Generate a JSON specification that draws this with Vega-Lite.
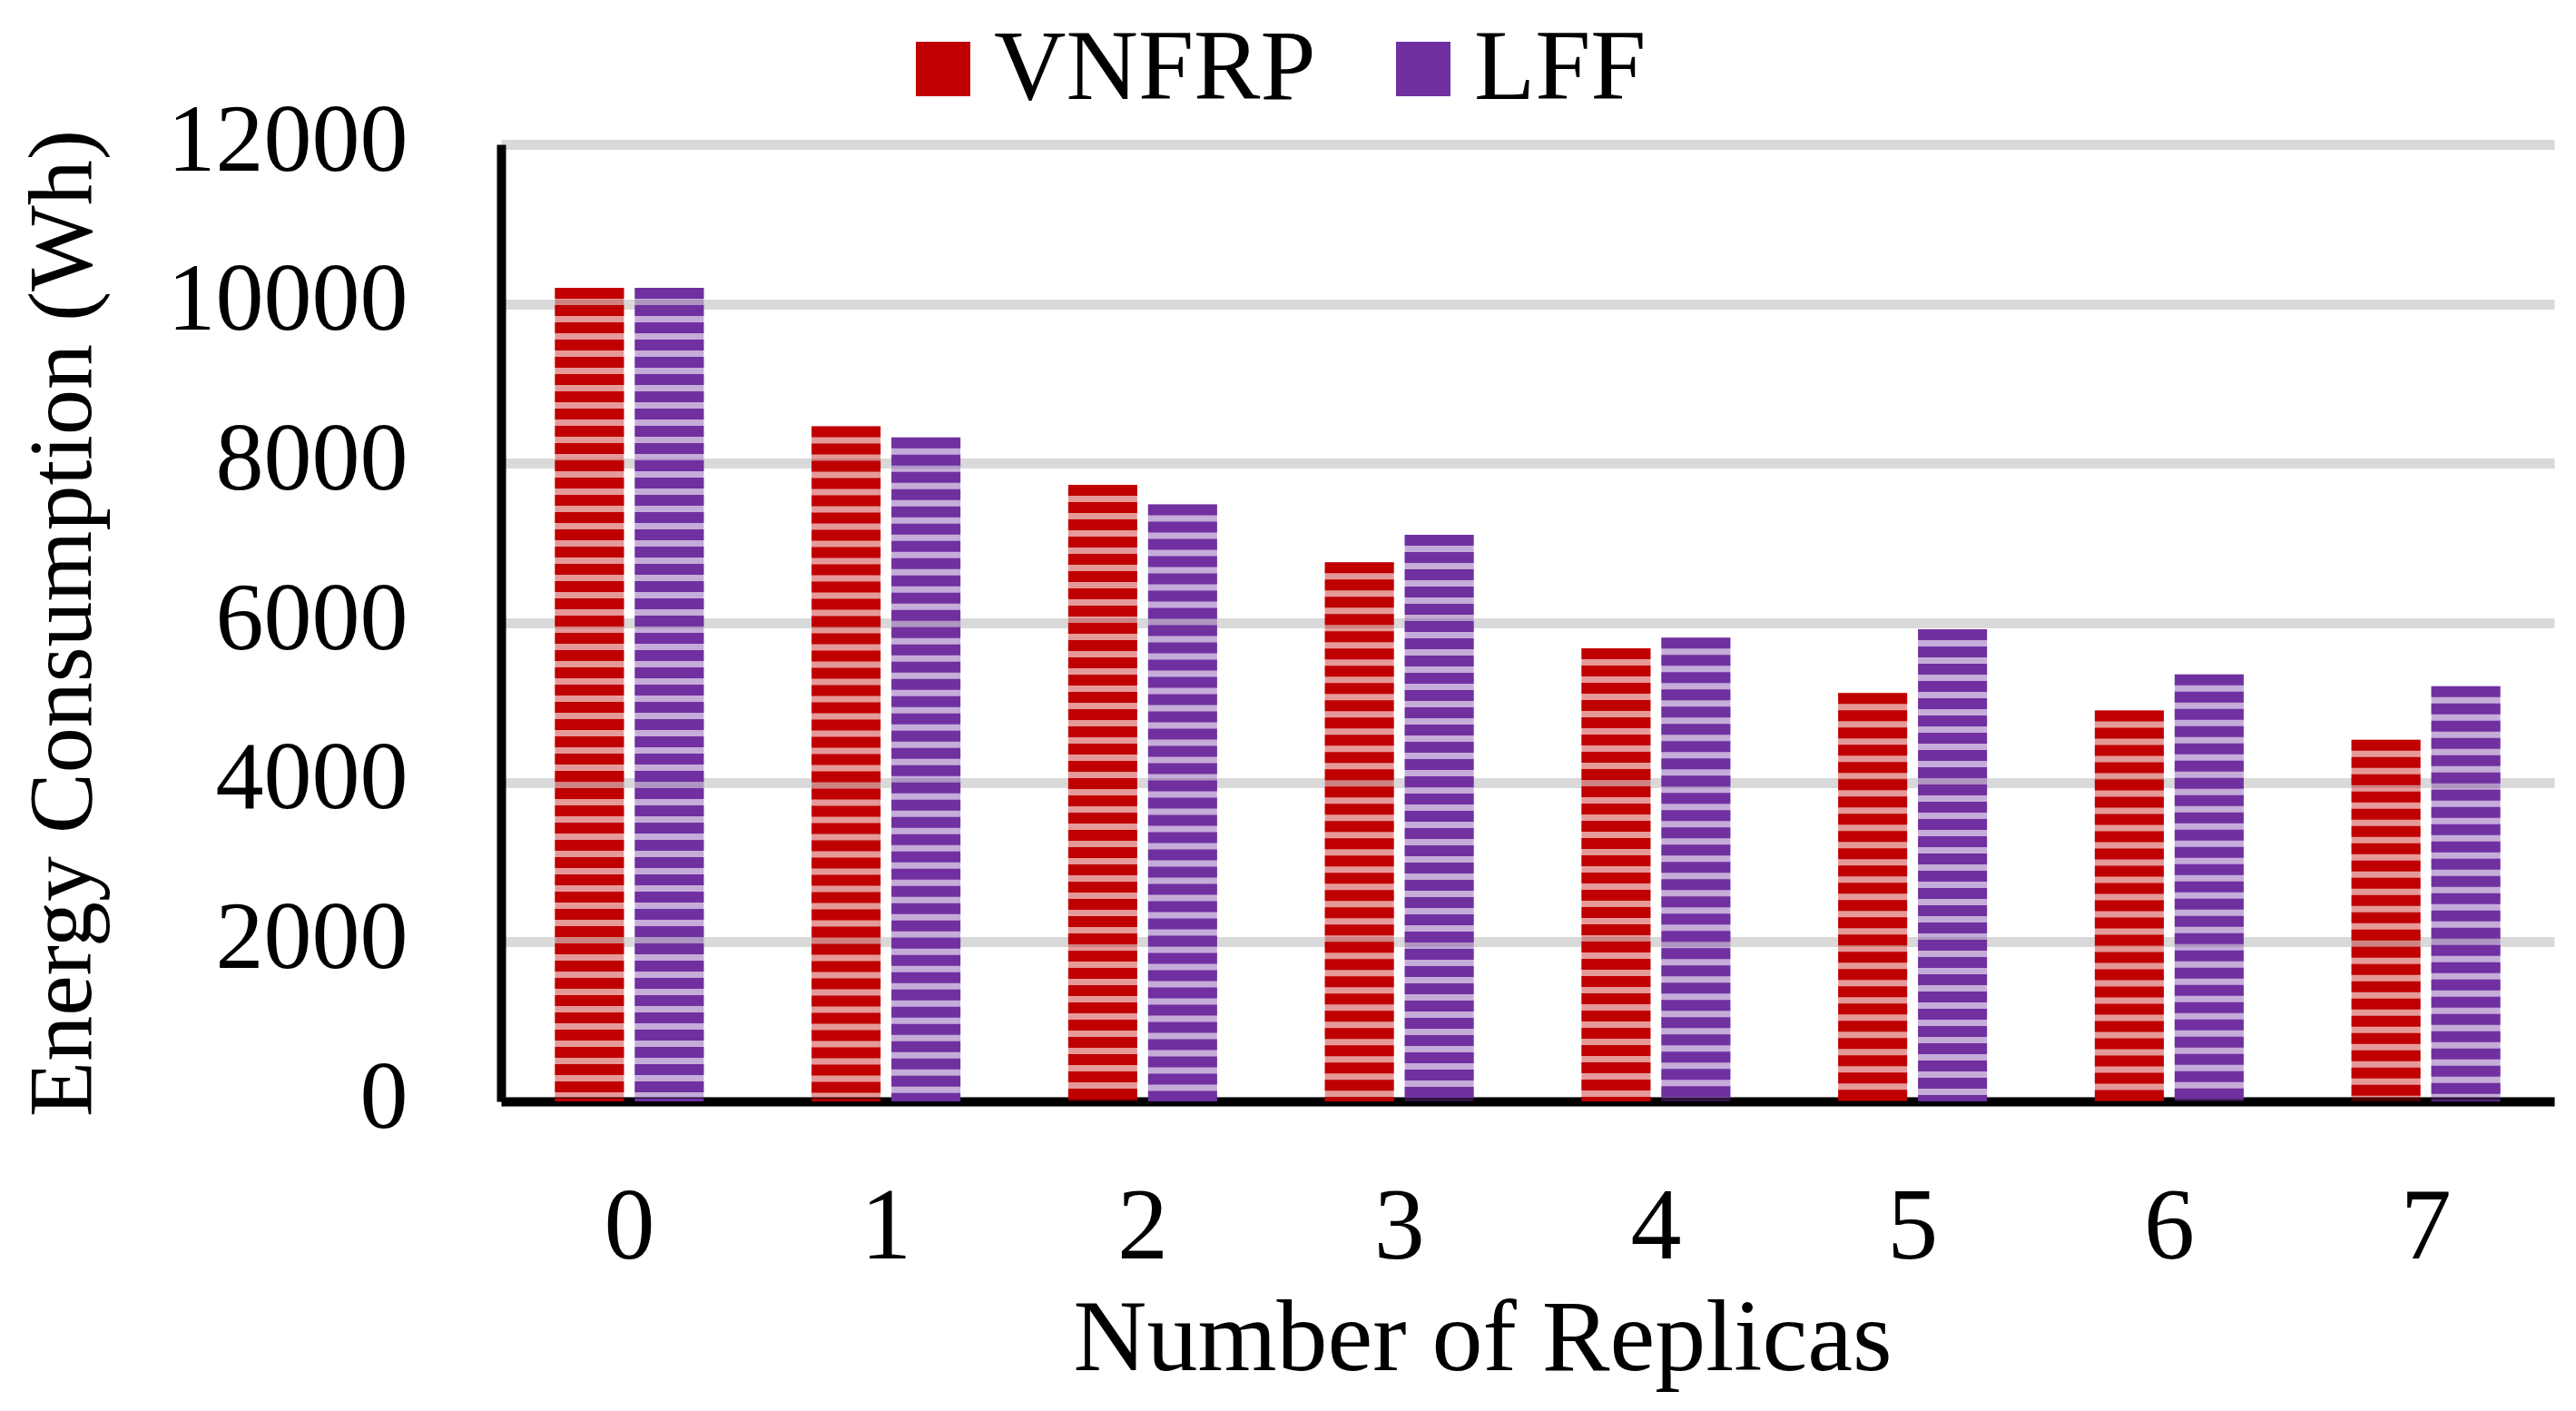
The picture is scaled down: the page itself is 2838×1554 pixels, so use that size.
{
  "$schema": "https://vega.github.io/schema/vega-lite/v6.json",
  "width": 2262,
  "height": 1054,
  "autosize": {"type": "none"},
  "padding": {"left": 552, "top": 159, "right": 24, "bottom": 341},
  "background": "white",
  "config": {
    "font": "Liberation Serif",
    "view": {"stroke": null},
    "axis": {"labelFont": "Liberation Serif", "titleFont": "Liberation Serif", "labelColor": "black", "titleColor": "black", "titleFontWeight": "normal", "labelLimit": 0},
    "legend": {"labelFont": "Liberation Serif", "labelColor": "black", "labelLimit": 0}
  },
  "data": {
    "values": [
      {"replicas": "0", "series": "VNFRP", "energy": 10200},
      {"replicas": "0", "series": "LFF", "energy": 10200},
      {"replicas": "1", "series": "VNFRP", "energy": 8465},
      {"replicas": "1", "series": "LFF", "energy": 8325},
      {"replicas": "2", "series": "VNFRP", "energy": 7730},
      {"replicas": "2", "series": "LFF", "energy": 7485},
      {"replicas": "3", "series": "VNFRP", "energy": 6760},
      {"replicas": "3", "series": "LFF", "energy": 7105},
      {"replicas": "4", "series": "VNFRP", "energy": 5680},
      {"replicas": "4", "series": "LFF", "energy": 5815},
      {"replicas": "5", "series": "VNFRP", "energy": 5120},
      {"replicas": "5", "series": "LFF", "energy": 5920},
      {"replicas": "6", "series": "VNFRP", "energy": 4900},
      {"replicas": "6", "series": "LFF", "energy": 5355},
      {"replicas": "7", "series": "VNFRP", "energy": 4535},
      {"replicas": "7", "series": "LFF", "energy": 5205}
    ]
  },
  "encoding": {
    "x": {
      "field": "replicas",
      "type": "nominal",
      "sort": null,
      "scale": {"paddingInner": 0.42, "paddingOuter": 0.21},
      "axis": {
        "title": "Number of Replicas",
        "titleFontSize": 112,
        "titleX": 1081,
        "titleY": 295,
        "titleBaseline": "alphabetic",
        "labelFontSize": 112,
        "labelAngle": 0,
        "labelBaseline": "alphabetic",
        "labelPadding": 172,
        "ticks": false,
        "tickSize": 0,
        "domainColor": "black",
        "domainWidth": 10,
        "grid": false
      }
    },
    "xOffset": {
      "field": "series",
      "type": "nominal",
      "sort": ["VNFRP", "LFF"],
      "scale": {"paddingInner": 0.136, "paddingOuter": 0}
    },
    "y": {
      "field": "energy",
      "type": "quantitative",
      "scale": {"domain": [0, 12000], "nice": false},
      "axis": {
        "title": "Energy Consumption (Wh)",
        "titleFontSize": 100,
        "titleAngle": 270,
        "titleX": -453,
        "titleY": 527,
        "titleBaseline": "alphabetic",
        "values": [0, 2000, 4000, 6000, 8000, 10000, 12000],
        "format": "d",
        "labelFontSize": 106,
        "labelPadding": 103,
        "labelBaseline": "middle",
        "labelOffset": -4,
        "ticks": false,
        "tickSize": 0,
        "domainColor": "black",
        "domainWidth": 10,
        "gridColor": "#d9d9d9",
        "gridWidth": 11
      }
    },
    "color": {
      "field": "series",
      "type": "nominal",
      "sort": ["VNFRP", "LFF"],
      "scale": {"domain": ["VNFRP", "LFF"], "range": ["#c00000", "#7030a0"]},
      "legend": {
        "title": null,
        "orient": "none",
        "direction": "horizontal",
        "legendX": 432,
        "legendY": -138,
        "padding": 0,
        "symbolType": "square",
        "symbolSize": 3600,
        "symbolOpacity": 1,
        "symbolStrokeWidth": 0,
        "labelFontSize": 110,
        "labelOffset": 1,
        "columnPadding": 63
      }
    }
  },
  "layer": [
    {
      "mark": {"type": "bar", "opacity": 0.4}
    },
    {
      "mark": {"type": "rule", "strokeWidth": 76, "strokeDash": [12, 7], "strokeCap": "butt"},
      "encoding": {
        "y2": {"datum": 0}
      }
    }
  ]
}
